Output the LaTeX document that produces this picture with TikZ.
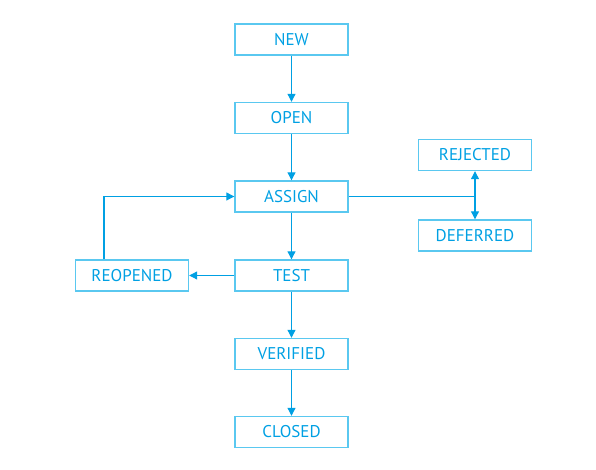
\documentclass[tikz,border=0pt]{standalone}
\usepackage{fontspec}
\setmainfont{PT Sans}
\usetikzlibrary{positioning, arrows.meta}

\definecolor{bugtext}{RGB}{0,160,227}
\definecolor{bugline}{RGB}{90,200,240}

\begin{document}
\begin{tikzpicture}[on grid, auto,
    stat/.style={draw=bugline, line width=1.4pt, text=bugtext, minimum width=113pt,
        minimum height=31pt, inner sep=0pt, font=\fontsize{17}{20}\selectfont},
    flow/.style={draw=bugtext, line width=1.1pt, -{Triangle[length=8pt,width=8pt]}}]
    \useasboundingbox (0,0) rectangle (596pt,470pt);
    % Define states
    \node[stat] (new) at (291.5pt,430.5pt) {NEW};
    \node[stat] (open) [below=78.5pt of new] {OPEN};
    \node[stat] (assign) [below=78.5pt of open] {ASSIGN};
    \node[stat] (test) [below=79pt of assign] {TEST};
    \node[stat] (verified) [below=78.5pt of test] {VERIFIED};
    \node[stat] (closed) [below=78pt of verified] {CLOSED};
    \node[stat] (reopened) [left=159.5pt of test] {REOPENED};
    \node[stat] (rejected) [above right=41.5pt and 183.5pt of assign] {REJECTED};
    \node[stat] (deferred) [below=80.5pt of rejected] {DEFERRED};

    % Define transitions
    \draw[flow] (new) -- (open);
    \draw[flow] (open) -- (assign);
    \draw[flow] (assign) -- (test);
    \draw[flow] (test) -- (verified);
    \draw[flow] (verified) -- (closed);
    \draw[flow] (test) -- (reopened);
    \draw[flow] ([xshift=-28pt]reopened.north) |- (assign.west);
    \draw[draw=bugtext, line width=1.1pt] (assign.east) -- (assign.east -| rejected) coordinate (split);
    \draw[flow] (split) -- (rejected);
    \draw[flow] (split) -- (deferred);
\end{tikzpicture}
\end{document}
